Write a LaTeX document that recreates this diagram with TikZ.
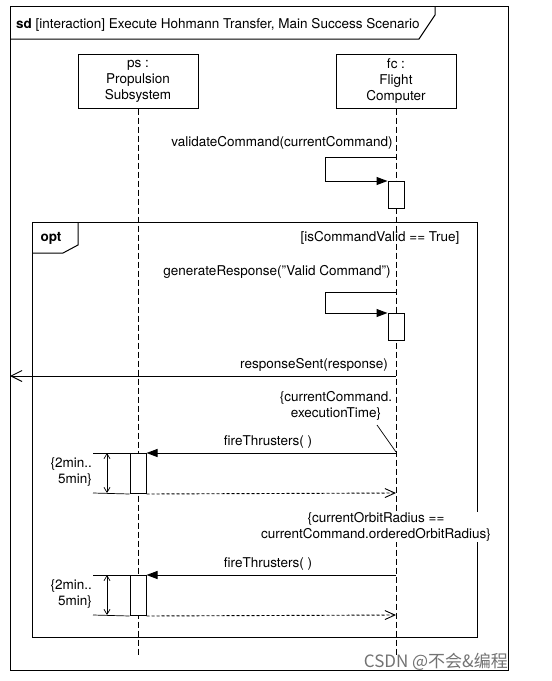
\documentclass[tikz,border=0pt]{standalone}
\usepackage{fontspec}
\setmainfont{TeX Gyre Heros}
\newfontfamily\cjk{Noto Sans CJK SC}
\usetikzlibrary{arrows.meta}
\tikzset{
  txt/.style={font=\fontsize{13.5}{16}\selectfont, inner sep=0pt},
  lifebox/.style={draw, line width=1pt, minimum width=120pt, minimum height=54pt, align=center, txt},
  lifeline/.style={line width=1pt, dash pattern=on 6pt off 3pt},
  frm/.style={line width=1pt},
  actbox/.style={draw, line width=1pt, fill=white},
  callmsg/.style={line width=1pt, -{Triangle[length=11pt,width=8pt]}},
  replymsg/.style={line width=0.9pt, dash pattern=on 3pt off 2pt, -{Straight Barb[length=10pt,width=9pt]}},
  asyncmsg/.style={line width=1pt, -{Straight Barb[length=11pt,width=11pt]}},
  durarrow/.style={line width=0.7pt, {Straight Barb[length=5pt,width=6pt]}-{Straight Barb[length=5pt,width=6pt]}},
  thin line/.style={line width=0.7pt}
}
\begin{document}
\begin{tikzpicture}[x=1pt,y=-1pt]
\useasboundingbox (0,0) rectangle (552,681);
\fill[white] (0,0) rectangle (552,681);

% outer frame
\draw[frm] (10,6) rectangle (508,670);
\draw[frm] (435,6) -- (435,15) -- (419,39) -- (10,39);
\node[txt, anchor=west] (title) at (16,25) {\textbf{sd} [interaction] Execute Hohmann Transfer, Main Success Scenario};

% lifeline heads
\node[lifebox] (ps) at (138,81) {ps :\\Propulsion\\Subsystem};
\node[lifebox] (fc) at (396,81) {fc :\\Flight\\Computer};
\coordinate (psend) at (138,657);
\coordinate (fcend) at (396,657);
\draw[lifeline] (ps.south) -- (psend);
\draw[lifeline] (fc.south) -- (fcend);

% opt fragment
\draw[frm] (32,222) rectangle (477,637);
\draw[frm] (32,253) -- (63,253) -- (78,245) -- (78,222);
\node[txt, font=\fontsize{13.5}{16}\selectfont\bfseries] (optlbl) at (51,238) {opt};
\node[txt] (guard) at (380,238) {[isCommandValid == True]};

% validateCommand self message
\node[txt] (m1) at (282,143) {validateCommand(currentCommand)};
\coordinate (s1a) at (396,157);
\coordinate (s1b) at (325,157);
\coordinate (s1c) at (325,181);
\node[actbox, minimum width=16pt, minimum height=27pt, inner sep=0pt, anchor=north] (act1) at (396,181) {};
\draw[line width=1pt] (s1a) -- (s1b) -- (s1c);
\draw[callmsg] (s1c) -- (act1.north west);

% generateResponse self message
\node[txt] (m2) at (277,272) {generateResponse("Valid Command")};
\coordinate (s2a) at (396,292);
\coordinate (s2b) at (325,292);
\coordinate (s2c) at (325,313);
\node[actbox, minimum width=16pt, minimum height=27pt, inner sep=0pt, anchor=north] (act2) at (396,313) {};
\draw[line width=1pt] (s2a) -- (s2b) -- (s2c);
\draw[callmsg] (s2c) -- (act2.north west);

% responseSent
\node[txt] (m3) at (314,365) {responseSent(response)};
\coordinate (r3a) at (396,376);
\coordinate (gate) at (10,376);
\draw[asyncmsg] (r3a) -- (gate);

% note execution time
\node[txt, align=center] (n1) at (336,406) {\{currentCommand.\\executionTime\}};
\coordinate (n1tip) at (396,452);
\draw[thin line] (377,425) -- (n1tip);

% fireThrusters 1
\node[txt] (m4) at (268,442) {fireThrusters( )};
\coordinate (f1a) at (396,453);
\node[actbox, minimum width=16pt, minimum height=40pt, inner sep=0pt, anchor=north] (act3) at (138,453) {};
\draw[callmsg] (f1a) -- (act3.north east);
\coordinate (f1r) at (396,493);
\draw[replymsg] (act3.south east) -- (f1r);
\coordinate (t1a) at (93,453);
\coordinate (t1b) at (93,493);
\draw[thin line] (t1a) -- (act3.north west);
\draw[thin line] (t1b) -- (act3.south west);
\coordinate (d1a) at (107,453);
\coordinate (d1b) at (107,493);
\draw[durarrow] (d1a) -- (d1b);
\node[txt, align=right, anchor=east] (c1) at (92,472) {\{2min..\\5min\}};

% note orbit radius
\node[txt, align=center, fill=white, inner sep=1pt] (n2) at (376,527) {\{currentOrbitRadius ==\\currentCommand.orderedOrbitRadius\}};

% fireThrusters 2
\node[txt] (m5) at (268,564) {fireThrusters( )};
\coordinate (f2a) at (396,575);
\node[actbox, minimum width=16pt, minimum height=40pt, inner sep=0pt, anchor=north] (act4) at (138,575) {};
\draw[callmsg] (f2a) -- (act4.north east);
\coordinate (f2r) at (396,615);
\draw[replymsg] (act4.south east) -- (f2r);
\coordinate (t2a) at (93,575);
\coordinate (t2b) at (93,615);
\draw[thin line] (t2a) -- (act4.north west);
\draw[thin line] (t2b) -- (act4.south west);
\coordinate (d2a) at (107,575);
\coordinate (d2b) at (107,615);
\draw[durarrow] (d2a) -- (d2b);
\node[txt, align=right, anchor=east] (c2) at (92,594) {\{2min..\\5min\}};

% watermark
\node[font=\cjk\fontsize{17}{19}\selectfont, text=black!55, inner sep=0pt, anchor=east] (wm) at (508,662) {CSDN @不会\&编程};
\end{tikzpicture}
\end{document}
